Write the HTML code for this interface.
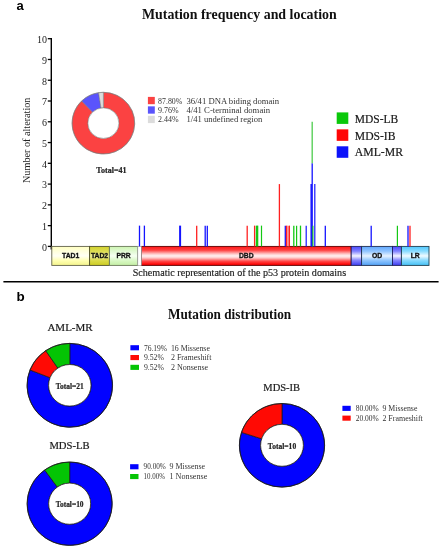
<!DOCTYPE html>
<html><head><meta charset="utf-8"><title>p53 mutation figure</title>
<style>html,body{margin:0;padding:0;background:#fff;}body{width:442px;height:550px;overflow:hidden;}svg{display:block;}</style>
</head><body>
<svg width="442" height="550" viewBox="0 0 442 550"><defs>
<linearGradient id="gTAD1" x1="0" y1="0" x2="0" y2="1"><stop offset="0" stop-color="#ffffc0"/><stop offset="0.3" stop-color="#ffffe0"/><stop offset="0.5" stop-color="#fffff4"/><stop offset="0.75" stop-color="#ffffb0"/><stop offset="1" stop-color="#f4f48c"/></linearGradient>
<linearGradient id="gTAD2" x1="0" y1="0" x2="0" y2="1"><stop offset="0" stop-color="#d2d22c"/><stop offset="0.3" stop-color="#dede58"/><stop offset="0.5" stop-color="#eaea96"/><stop offset="0.75" stop-color="#dada48"/><stop offset="1" stop-color="#cccc22"/></linearGradient>
<linearGradient id="gPRR" x1="0" y1="0" x2="0" y2="1"><stop offset="0" stop-color="#ccf5b0"/><stop offset="0.3" stop-color="#e4fad8"/><stop offset="0.5" stop-color="#f6fff2"/><stop offset="0.75" stop-color="#d8f8c4"/><stop offset="1" stop-color="#c4eea4"/></linearGradient>
<linearGradient id="gDBD" x1="0" y1="0" x2="0" y2="1"><stop offset="0" stop-color="#ff1414"/><stop offset="0.2" stop-color="#ff4040"/><stop offset="0.4" stop-color="#ffc8c8"/><stop offset="0.5" stop-color="#fff2f2"/><stop offset="0.6" stop-color="#ffcccc"/><stop offset="0.78" stop-color="#ff4848"/><stop offset="0.92" stop-color="#ff1010"/><stop offset="1" stop-color="#e00000"/></linearGradient>
<linearGradient id="gPUR" x1="0" y1="0" x2="0" y2="1"><stop offset="0" stop-color="#4a4aff"/><stop offset="0.25" stop-color="#8080ff"/><stop offset="0.5" stop-color="#f4f4ff"/><stop offset="0.72" stop-color="#8888ff"/><stop offset="1" stop-color="#3c3cf0"/></linearGradient>
<linearGradient id="gOD" x1="0" y1="0" x2="0" y2="1"><stop offset="0" stop-color="#60a8ff"/><stop offset="0.25" stop-color="#90c4ff"/><stop offset="0.5" stop-color="#e6f2ff"/><stop offset="0.72" stop-color="#94c8ff"/><stop offset="1" stop-color="#50a0f4"/></linearGradient>
<linearGradient id="gLR" x1="0" y1="0" x2="0" y2="1"><stop offset="0" stop-color="#50c8ff"/><stop offset="0.25" stop-color="#88dcff"/><stop offset="0.5" stop-color="#f0fbff"/><stop offset="0.72" stop-color="#8cdcff"/><stop offset="1" stop-color="#44c0f4"/></linearGradient>
</defs>
<text x="16.6" y="10.35" style="font-family:'Liberation Sans',sans-serif;font-weight:bold;font-size:13px" fill="#000">a</text>
<text x="16.4" y="300.5" style="font-family:'Liberation Sans',sans-serif;font-weight:bold;font-size:13.4px" fill="#000">b</text>
<text x="141.9" y="19.2" textLength="194.8" lengthAdjust="spacingAndGlyphs" style="font-family:'Liberation Serif',serif;font-weight:bold;font-size:14.3px" fill="#111">Mutation frequency and location</text>
<text x="168.0" y="318.6" textLength="123.2" lengthAdjust="spacingAndGlyphs" style="font-family:'Liberation Serif',serif;font-weight:bold;font-size:14.0px" fill="#111">Mutation distribution</text>
<line x1="51.3" y1="38.10" x2="51.3" y2="249.40" stroke="#000" stroke-width="1.4"/>
<line x1="47.8" y1="246.40" x2="51.3" y2="246.40" stroke="#000" stroke-width="1.3"/>
<text x="47.1" y="250.70" text-anchor="end" style="font-family:'Liberation Serif',serif;font-size:10px" fill="#222">0</text>
<line x1="47.8" y1="225.63" x2="51.3" y2="225.63" stroke="#000" stroke-width="1.3"/>
<text x="47.1" y="229.93" text-anchor="end" style="font-family:'Liberation Serif',serif;font-size:10px" fill="#222">1</text>
<line x1="47.8" y1="204.86" x2="51.3" y2="204.86" stroke="#000" stroke-width="1.3"/>
<text x="47.1" y="209.16" text-anchor="end" style="font-family:'Liberation Serif',serif;font-size:10px" fill="#222">2</text>
<line x1="47.8" y1="184.09" x2="51.3" y2="184.09" stroke="#000" stroke-width="1.3"/>
<text x="47.1" y="188.39" text-anchor="end" style="font-family:'Liberation Serif',serif;font-size:10px" fill="#222">3</text>
<line x1="47.8" y1="163.32" x2="51.3" y2="163.32" stroke="#000" stroke-width="1.3"/>
<text x="47.1" y="167.62" text-anchor="end" style="font-family:'Liberation Serif',serif;font-size:10px" fill="#222">4</text>
<line x1="47.8" y1="142.55" x2="51.3" y2="142.55" stroke="#000" stroke-width="1.3"/>
<text x="47.1" y="146.85" text-anchor="end" style="font-family:'Liberation Serif',serif;font-size:10px" fill="#222">5</text>
<line x1="47.8" y1="121.78" x2="51.3" y2="121.78" stroke="#000" stroke-width="1.3"/>
<text x="47.1" y="126.08" text-anchor="end" style="font-family:'Liberation Serif',serif;font-size:10px" fill="#222">6</text>
<line x1="47.8" y1="101.01" x2="51.3" y2="101.01" stroke="#000" stroke-width="1.3"/>
<text x="47.1" y="105.31" text-anchor="end" style="font-family:'Liberation Serif',serif;font-size:10px" fill="#222">7</text>
<line x1="47.8" y1="80.24" x2="51.3" y2="80.24" stroke="#000" stroke-width="1.3"/>
<text x="47.1" y="84.54" text-anchor="end" style="font-family:'Liberation Serif',serif;font-size:10px" fill="#222">8</text>
<line x1="47.8" y1="59.47" x2="51.3" y2="59.47" stroke="#000" stroke-width="1.3"/>
<text x="47.1" y="63.77" text-anchor="end" style="font-family:'Liberation Serif',serif;font-size:10px" fill="#222">9</text>
<line x1="47.8" y1="38.70" x2="51.3" y2="38.70" stroke="#000" stroke-width="1.3"/>
<text x="47.1" y="43.00" text-anchor="end" style="font-family:'Liberation Serif',serif;font-size:10px" fill="#222">10</text>
<text transform="translate(29.6,140.3) rotate(-90)" text-anchor="middle" textLength="85.4" lengthAdjust="spacingAndGlyphs" style="font-family:'Liberation Serif',serif;font-size:10.2px" fill="#222">Number of alteration</text>
<rect x="51.8" y="246.4" width="37.80" height="19.00" fill="url(#gTAD1)" stroke="#62624a" stroke-width="0.9"/>
<text x="70.70" y="258.00" text-anchor="middle" style="font-family:'Liberation Sans',sans-serif;font-weight:bold;font-size:6.8px" fill="#111" stroke="#111" stroke-width="0.3">TAD1</text>
<rect x="89.6" y="246.4" width="19.80" height="19.00" fill="url(#gTAD2)" stroke="#50502a" stroke-width="0.9"/>
<text x="99.50" y="258.00" text-anchor="middle" style="font-family:'Liberation Sans',sans-serif;font-weight:bold;font-size:6.8px" fill="#111" stroke="#111" stroke-width="0.3">TAD2</text>
<rect x="109.4" y="246.4" width="28.40" height="19.00" fill="url(#gPRR)" stroke="#6a7a5a" stroke-width="0.9"/>
<text x="123.60" y="258.00" text-anchor="middle" style="font-family:'Liberation Sans',sans-serif;font-weight:bold;font-size:6.8px" fill="#111" stroke="#111" stroke-width="0.3">PRR</text>
<rect x="141.3" y="246.4" width="209.90" height="19.00" fill="url(#gDBD)" stroke="#600000" stroke-width="0.9"/>
<text x="246.25" y="258.00" text-anchor="middle" style="font-family:'Liberation Sans',sans-serif;font-weight:bold;font-size:6.8px" fill="#111" stroke="#111" stroke-width="0.3">DBD</text>
<rect x="351.2" y="246.4" width="10.40" height="19.00" fill="url(#gPUR)" stroke="#202060" stroke-width="0.9"/>
<rect x="361.6" y="246.4" width="30.90" height="19.00" fill="url(#gOD)" stroke="#203050" stroke-width="0.9"/>
<text x="377.05" y="258.00" text-anchor="middle" style="font-family:'Liberation Sans',sans-serif;font-weight:bold;font-size:6.8px" fill="#111" stroke="#111" stroke-width="0.3">OD</text>
<rect x="392.5" y="246.4" width="8.90" height="19.00" fill="url(#gPUR)" stroke="#202060" stroke-width="0.9"/>
<rect x="401.4" y="246.4" width="27.60" height="19.00" fill="url(#gLR)" stroke="#204050" stroke-width="0.9"/>
<text x="415.20" y="258.00" text-anchor="middle" style="font-family:'Liberation Sans',sans-serif;font-weight:bold;font-size:6.8px" fill="#111" stroke="#111" stroke-width="0.3">LR</text>
<rect x="137.8" y="246.4" width="3.5" height="19.00" fill="#fff" stroke="#999" stroke-width="0.6"/>
<text x="132.7" y="276.1" textLength="213.4" lengthAdjust="spacingAndGlyphs" style="font-family:'Liberation Serif',serif;font-size:10.1px" fill="#1a1a1a" stroke="#1a1a1a" stroke-width="0.15">Schematic representation of the p53 protein domains</text>
<line x1="3.4" y1="281.7" x2="438.6" y2="281.7" stroke="#000" stroke-width="1.6"/>
<line x1="139.5" y1="225.63" x2="139.5" y2="246.4" stroke="#1414ff" stroke-width="1.3"/>
<line x1="144.4" y1="225.63" x2="144.4" y2="246.4" stroke="#1414ff" stroke-width="1.3"/>
<line x1="180.1" y1="225.63" x2="180.1" y2="246.4" stroke="#1414ff" stroke-width="2.0"/>
<line x1="196.7" y1="225.63" x2="196.7" y2="246.4" stroke="#ff2020" stroke-width="1.3"/>
<line x1="205.2" y1="225.63" x2="205.2" y2="246.4" stroke="#1414ff" stroke-width="1.3"/>
<line x1="207.3" y1="225.63" x2="207.3" y2="246.4" stroke="#1414ff" stroke-width="1.3"/>
<line x1="247.2" y1="225.63" x2="247.2" y2="246.4" stroke="#ff2020" stroke-width="1.3"/>
<line x1="254.6" y1="225.63" x2="254.6" y2="246.4" stroke="#ff2020" stroke-width="1.3"/>
<line x1="256.5" y1="225.63" x2="256.5" y2="246.4" stroke="#14c814" stroke-width="1.4"/>
<line x1="257.6" y1="225.63" x2="257.6" y2="246.4" stroke="#14c814" stroke-width="1.4"/>
<line x1="261.5" y1="225.63" x2="261.5" y2="246.4" stroke="#14c814" stroke-width="1.2"/>
<line x1="279.4" y1="184.09" x2="279.4" y2="246.4" stroke="#ff2020" stroke-width="1.3"/>
<line x1="285.3" y1="225.63" x2="285.3" y2="246.4" stroke="#1414ff" stroke-width="1.3"/>
<line x1="286.6" y1="225.63" x2="286.6" y2="246.4" stroke="#ff2020" stroke-width="1.4"/>
<line x1="288.2" y1="225.63" x2="288.2" y2="246.4" stroke="#ff6060" stroke-width="1.3"/>
<line x1="289.5" y1="225.63" x2="289.5" y2="246.4" stroke="#ff2020" stroke-width="1.0"/>
<line x1="293.8" y1="225.63" x2="293.8" y2="246.4" stroke="#14c814" stroke-width="1.3"/>
<line x1="296.6" y1="225.63" x2="296.6" y2="246.4" stroke="#14c814" stroke-width="1.2"/>
<line x1="300.5" y1="225.63" x2="300.5" y2="246.4" stroke="#14c814" stroke-width="1.3"/>
<line x1="306.2" y1="225.63" x2="306.2" y2="246.4" stroke="#1414ff" stroke-width="1.2"/>
<line x1="311.2" y1="184.09" x2="311.2" y2="246.4" stroke="#1414ff" stroke-width="1.5"/>
<line x1="312.2" y1="163.32" x2="312.2" y2="246.4" stroke="#1414ff" stroke-width="1.3"/>
<line x1="314.8" y1="184.09" x2="314.8" y2="246.4" stroke="#1414ff" stroke-width="1.2"/>
<line x1="325.3" y1="225.63" x2="325.3" y2="246.4" stroke="#1414ff" stroke-width="1.3"/>
<line x1="371.2" y1="225.63" x2="371.2" y2="246.4" stroke="#1414ff" stroke-width="1.3"/>
<line x1="397.4" y1="225.63" x2="397.4" y2="246.4" stroke="#14c814" stroke-width="1.2"/>
<line x1="408.0" y1="225.63" x2="408.0" y2="246.4" stroke="#1414ff" stroke-width="1.3"/>
<line x1="410.0" y1="225.63" x2="410.0" y2="246.4" stroke="#ff2020" stroke-width="1.3"/>
<line x1="312.2" y1="121.78" x2="312.2" y2="163.32" stroke="#5ad05a" stroke-width="1.4"/>
<line x1="312.9" y1="225.63" x2="312.9" y2="246.4" stroke="#14c814" stroke-width="1.1"/>
<g transform="translate(103.4,123.15) scale(1,0.985)">
<path d="M0.00,-31.30A31.3,31.3 0 1 1 -21.71,-22.55L-10.75,-11.16A15.5,15.5 0 1 0 0.00,-15.50Z" fill="#fb4242" stroke="#777" stroke-width="0.5" stroke-linejoin="round"/>
<path d="M-21.71,-22.55A31.3,31.3 0 0 1 -4.78,-30.93L-2.37,-15.32A15.5,15.5 0 0 0 -10.75,-11.16Z" fill="#5a54fc" stroke="#777" stroke-width="0.5" stroke-linejoin="round"/>
<path d="M-4.78,-30.93A31.3,31.3 0 0 1 -0.00,-31.30L-0.00,-15.50A15.5,15.5 0 0 0 -2.37,-15.32Z" fill="#dcdcdc" stroke="#777" stroke-width="0.5" stroke-linejoin="round"/>
<circle cx="0" cy="0" r="31.3" fill="none" stroke="#777" stroke-width="0.5"/>
<circle cx="0" cy="0" r="15.5" fill="#fff" stroke="#777" stroke-width="0.5"/>
</g>
<text x="111.5" y="172.7" text-anchor="middle" textLength="30.3" lengthAdjust="spacingAndGlyphs" style="font-family:'Liberation Serif',serif;font-weight:bold;font-size:8.4px" fill="#222" stroke="#222" stroke-width="0.2">Total=41</text>
<rect x="147.9" y="96.90" width="6.9" height="7.3" fill="#fb4242"/>
<text x="158.1" y="103.50" textLength="24.2" lengthAdjust="spacingAndGlyphs" style="font-family:'Liberation Serif',serif;font-size:8.3px" fill="#333">87.80%</text>
<text x="186.5" y="103.50" textLength="92.6" lengthAdjust="spacingAndGlyphs" style="font-family:'Liberation Serif',serif;font-size:8.3px" fill="#333">36/41 DNA biding domain</text>
<rect x="147.9" y="106.35" width="6.9" height="7.3" fill="#5a54fc"/>
<text x="158.1" y="112.95" textLength="20.6" lengthAdjust="spacingAndGlyphs" style="font-family:'Liberation Serif',serif;font-size:8.3px" fill="#333">9.76%</text>
<text x="186.5" y="112.95" textLength="83.5" lengthAdjust="spacingAndGlyphs" style="font-family:'Liberation Serif',serif;font-size:8.3px" fill="#333">4/41 C-terminal domain</text>
<rect x="147.9" y="115.80" width="6.9" height="7.3" fill="#dcdcdc"/>
<text x="158.1" y="122.40" textLength="20.6" lengthAdjust="spacingAndGlyphs" style="font-family:'Liberation Serif',serif;font-size:8.3px" fill="#333">2.44%</text>
<text x="186.5" y="122.40" textLength="75.8" lengthAdjust="spacingAndGlyphs" style="font-family:'Liberation Serif',serif;font-size:8.3px" fill="#333">1/41 undefined region</text>
<rect x="336.7" y="112.40" width="11.6" height="11.5" fill="#0ac80a"/>
<text x="354.8" y="122.90" textLength="43.4" lengthAdjust="spacingAndGlyphs" style="font-family:'Liberation Serif',serif;font-size:11.7px" fill="#1a1a1a" stroke="#1a1a1a" stroke-width="0.2">MDS-LB</text>
<rect x="336.7" y="129.35" width="11.6" height="11.5" fill="#ff0606"/>
<text x="354.8" y="139.50" textLength="40.7" lengthAdjust="spacingAndGlyphs" style="font-family:'Liberation Serif',serif;font-size:11.7px" fill="#1a1a1a" stroke="#1a1a1a" stroke-width="0.2">MDS-IB</text>
<rect x="336.7" y="146.30" width="11.6" height="11.5" fill="#0c12fa"/>
<text x="354.8" y="156.10" textLength="48.2" lengthAdjust="spacingAndGlyphs" style="font-family:'Liberation Serif',serif;font-size:11.7px" fill="#1a1a1a" stroke="#1a1a1a" stroke-width="0.2">AML-MR</text>
<g transform="translate(69.8,385.3) scale(1,0.98)">
<path d="M0.00,-42.75A42.75,42.75 0 1 1 -39.79,-15.64L-19.73,-7.75A21.2,21.2 0 1 0 0.00,-21.20Z" fill="#0202ff" stroke="#1a1a1a" stroke-width="0.75" stroke-linejoin="round"/>
<path d="M-39.79,-15.64A42.75,42.75 0 0 1 -24.07,-35.33L-11.94,-17.52A21.2,21.2 0 0 0 -19.73,-7.75Z" fill="#ff0a04" stroke="#1a1a1a" stroke-width="0.75" stroke-linejoin="round"/>
<path d="M-24.07,-35.33A42.75,42.75 0 0 1 -0.00,-42.75L-0.00,-21.20A21.2,21.2 0 0 0 -11.94,-17.52Z" fill="#04c404" stroke="#1a1a1a" stroke-width="0.75" stroke-linejoin="round"/>
<circle cx="0" cy="0" r="42.75" fill="none" stroke="#1a1a1a" stroke-width="0.75"/>
<circle cx="0" cy="0" r="21.2" fill="#fff" stroke="#1a1a1a" stroke-width="0.75"/>
</g>
<text x="47.4" y="330.8" textLength="45.3" lengthAdjust="spacingAndGlyphs" style="font-family:'Liberation Serif',serif;font-size:11px" fill="#1a1a1a" stroke="#1a1a1a" stroke-width="0.2">AML-MR</text>
<text x="69.8" y="388.60" text-anchor="middle" textLength="28.1" lengthAdjust="spacingAndGlyphs" style="font-family:'Liberation Serif',serif;font-weight:bold;font-size:8.2px" fill="#222" stroke="#222" stroke-width="0.2">Total=21</text>
<g transform="translate(282.0,445.3) scale(1,0.98)">
<path d="M0.00,-42.65A42.65,42.65 0 1 1 -40.56,-13.18L-20.35,-6.61A21.4,21.4 0 1 0 0.00,-21.40Z" fill="#0202ff" stroke="#1a1a1a" stroke-width="0.75" stroke-linejoin="round"/>
<path d="M-40.56,-13.18A42.65,42.65 0 0 1 -0.00,-42.65L-0.00,-21.40A21.4,21.4 0 0 0 -20.35,-6.61Z" fill="#ff0a04" stroke="#1a1a1a" stroke-width="0.75" stroke-linejoin="round"/>
<circle cx="0" cy="0" r="42.65" fill="none" stroke="#1a1a1a" stroke-width="0.75"/>
<circle cx="0" cy="0" r="21.4" fill="#fff" stroke="#1a1a1a" stroke-width="0.75"/>
</g>
<text x="263.3" y="390.9" textLength="36.8" lengthAdjust="spacingAndGlyphs" style="font-family:'Liberation Serif',serif;font-size:11px" fill="#1a1a1a" stroke="#1a1a1a" stroke-width="0.2">MDS-IB</text>
<text x="282.0" y="448.60" text-anchor="middle" textLength="28.3" lengthAdjust="spacingAndGlyphs" style="font-family:'Liberation Serif',serif;font-weight:bold;font-size:8.2px" fill="#222" stroke="#222" stroke-width="0.2">Total=10</text>
<g transform="translate(69.65,503.7) scale(1,0.98)">
<path d="M0.00,-42.50A42.5,42.5 0 1 1 -24.98,-34.38L-12.34,-16.99A21.0,21.0 0 1 0 0.00,-21.00Z" fill="#0202ff" stroke="#1a1a1a" stroke-width="0.75" stroke-linejoin="round"/>
<path d="M-24.98,-34.38A42.5,42.5 0 0 1 -0.00,-42.50L-0.00,-21.00A21.0,21.0 0 0 0 -12.34,-16.99Z" fill="#04c404" stroke="#1a1a1a" stroke-width="0.75" stroke-linejoin="round"/>
<circle cx="0" cy="0" r="42.5" fill="none" stroke="#1a1a1a" stroke-width="0.75"/>
<circle cx="0" cy="0" r="21.0" fill="#fff" stroke="#1a1a1a" stroke-width="0.75"/>
</g>
<text x="49.4" y="449.4" textLength="40.2" lengthAdjust="spacingAndGlyphs" style="font-family:'Liberation Serif',serif;font-size:11px" fill="#1a1a1a" stroke="#1a1a1a" stroke-width="0.2">MDS-LB</text>
<text x="69.65" y="507.00" text-anchor="middle" textLength="27.9" lengthAdjust="spacingAndGlyphs" style="font-family:'Liberation Serif',serif;font-weight:bold;font-size:8.2px" fill="#222" stroke="#222" stroke-width="0.2">Total=10</text>
<rect x="130.4" y="345.20" width="8.6" height="5.1" fill="#0202ff"/>
<text x="143.9" y="350.50" textLength="23.2" lengthAdjust="spacingAndGlyphs" style="font-family:'Liberation Serif',serif;font-size:7.5px" fill="#333">76.19%</text>
<text x="170.9" y="350.50" textLength="39.0" lengthAdjust="spacingAndGlyphs" style="font-family:'Liberation Serif',serif;font-size:7.5px" fill="#333">16 Missense</text>
<rect x="130.4" y="355.00" width="8.6" height="5.1" fill="#ff0a04"/>
<text x="143.9" y="360.20" textLength="20.1" lengthAdjust="spacingAndGlyphs" style="font-family:'Liberation Serif',serif;font-size:7.5px" fill="#333">9.52%</text>
<text x="170.9" y="360.20" textLength="40.6" lengthAdjust="spacingAndGlyphs" style="font-family:'Liberation Serif',serif;font-size:7.5px" fill="#333">2 Frameshift</text>
<rect x="130.4" y="364.80" width="8.6" height="5.1" fill="#04c404"/>
<text x="143.9" y="370.00" textLength="20.1" lengthAdjust="spacingAndGlyphs" style="font-family:'Liberation Serif',serif;font-size:7.5px" fill="#333">9.52%</text>
<text x="170.9" y="370.00" textLength="37.2" lengthAdjust="spacingAndGlyphs" style="font-family:'Liberation Serif',serif;font-size:7.5px" fill="#333">2 Nonsense</text>
<rect x="342.4" y="405.80" width="8.3" height="5.1" fill="#0202ff"/>
<text x="355.8" y="410.90" textLength="23.0" lengthAdjust="spacingAndGlyphs" style="font-family:'Liberation Serif',serif;font-size:7.5px" fill="#333">80.00%</text>
<text x="382.4" y="410.90" textLength="35.0" lengthAdjust="spacingAndGlyphs" style="font-family:'Liberation Serif',serif;font-size:7.5px" fill="#333">9 Missense</text>
<rect x="342.4" y="415.60" width="8.3" height="5.1" fill="#ff0a04"/>
<text x="355.8" y="420.70" textLength="23.0" lengthAdjust="spacingAndGlyphs" style="font-family:'Liberation Serif',serif;font-size:7.5px" fill="#333">20.00%</text>
<text x="382.4" y="420.70" textLength="40.4" lengthAdjust="spacingAndGlyphs" style="font-family:'Liberation Serif',serif;font-size:7.5px" fill="#333">2 Frameshift</text>
<rect x="130.1" y="464.20" width="8.4" height="5.1" fill="#0202ff"/>
<text x="143.6" y="469.40" textLength="22.3" lengthAdjust="spacingAndGlyphs" style="font-family:'Liberation Serif',serif;font-size:7.5px" fill="#333">90.00%</text>
<text x="169.5" y="469.40" textLength="35.6" lengthAdjust="spacingAndGlyphs" style="font-family:'Liberation Serif',serif;font-size:7.5px" fill="#333">9 Missense</text>
<rect x="130.1" y="474.00" width="8.4" height="5.1" fill="#04c404"/>
<text x="143.6" y="479.20" textLength="21.3" lengthAdjust="spacingAndGlyphs" style="font-family:'Liberation Serif',serif;font-size:7.5px" fill="#333">10.00%</text>
<text x="169.5" y="479.20" textLength="37.8" lengthAdjust="spacingAndGlyphs" style="font-family:'Liberation Serif',serif;font-size:7.5px" fill="#333">1 Nonsense</text></svg>
</body></html>
